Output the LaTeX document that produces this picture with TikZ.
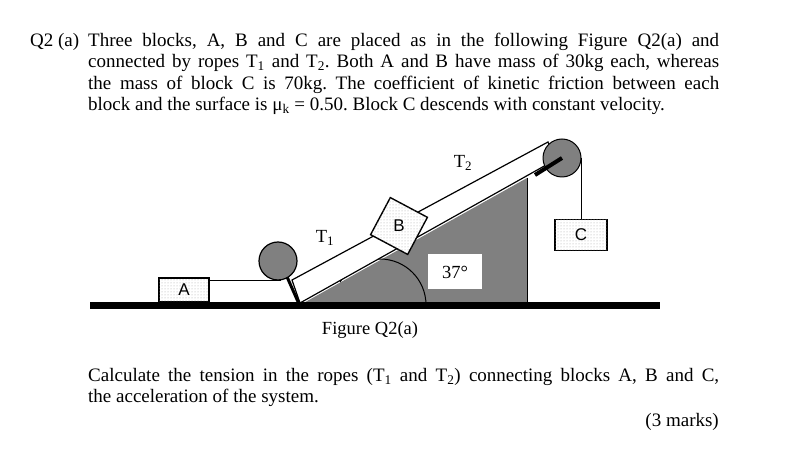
\documentclass[tikz,border=0pt]{standalone}
\usepackage{fontspec}
\setmainfont{Liberation Serif}
\setsansfont{Liberation Sans}
\usetikzlibrary{patterns}
\begin{document}
\frenchspacing
\begin{tikzpicture}[x=1pt,y=-1pt,
  txt/.style={inner sep=0pt,anchor=north west,font=\fontsize{19}{21.3}\selectfont},
  blk/.style={draw,line width=1.4pt,fill=white,postaction={pattern=dots,pattern color=gray!70}},
  gray fill/.style={fill=gray!75!black!80},
  lbl/.style={font=\fontsize{18.5}{20}\selectfont,inner sep=1pt}]
\useasboundingbox (0,0) rectangle (796,454);
% text
\node[txt] (q) at (30,33) {Q2 (a)};
\node[txt,text width=631pt,align=justify] (p) at (88,33) {Three blocks, A, B and C are placed as in the following Figure Q2(a) and\linebreak connected by ropes T\textsubscript{1} and T\textsubscript{2}. Both A and B have mass of 30kg each, whereas\linebreak the mass of block C is 70kg. The coefficient of kinetic friction between each\linebreak block and the surface is μ\textsubscript{k} = 0.50. Block C descends with constant velocity.};
% incline
\fill[gray fill] (300,305) -- (527,178) -- (527,305) -- cycle;
\draw[line width=1pt] (527,178) -- (527,305);
\draw[line width=1pt] (426,305) arc[start angle=0,end angle=-150,radius=46];
% plank
\draw[line width=1.2pt,fill=white] (300,303) -- (292,280) -- (548,142) -- (555,160) -- cycle;
\draw[line width=3pt] (284,270) -- (299,304);
% right pulley
\node[circle,draw,line width=1pt,gray fill,minimum size=38pt,inner sep=0] (pr) at (562,158) {};
\draw[line width=4pt] (pr.center) -- (535,175);
% left pulley
\node[circle,draw,line width=1.2pt,gray fill,minimum size=38pt,inner sep=0] (pl) at (278,261) {};
% ground
\fill (90,302) rectangle (660,309);
% block A
\node[blk,minimum width=50pt,minimum height=24pt,inner sep=0,font=\sffamily\fontsize{17}{17}\selectfont] (A) at (184,290) {A};
\coordinate (ar) at (281,281);
\draw[line width=1pt] (A.east |- 0,281) -- (ar);
% block B
\node[blk,minimum size=42pt,inner sep=0,rotate=-28,font=\sffamily\fontsize{17}{17}\selectfont] (B) at (399,226) {\rotatebox{28}{B}};
% block C
\node[blk,minimum width=52pt,minimum height=31pt,inner sep=0,font=\sffamily\fontsize{17}{17}\selectfont] (C) at (581,235) {C};
\draw[line width=1pt] (pr.east) -- (C.north -| pr.east);
% labels
\node[fill=white,minimum width=54pt,minimum height=35pt,font=\fontsize{18.5}{20}\selectfont] (ang) at (455,272) {37°};
\node[lbl] (t1) at (325,238) {T\textsubscript{1}};
\node[lbl] (t2) at (463,163) {T\textsubscript{2}};
\node[lbl] (cap) at (370,330) {Figure Q2(a)};
\node[txt,text width=631pt,align=justify] (c) at (88,368) {Calculate the tension in the ropes (T\textsubscript{1} and T\textsubscript{2}) connecting blocks A, B and C,\linebreak the acceleration of the system.};
\node[txt,anchor=north east] (m) at (719,413) {(3 marks)};
\end{tikzpicture}
\end{document}
